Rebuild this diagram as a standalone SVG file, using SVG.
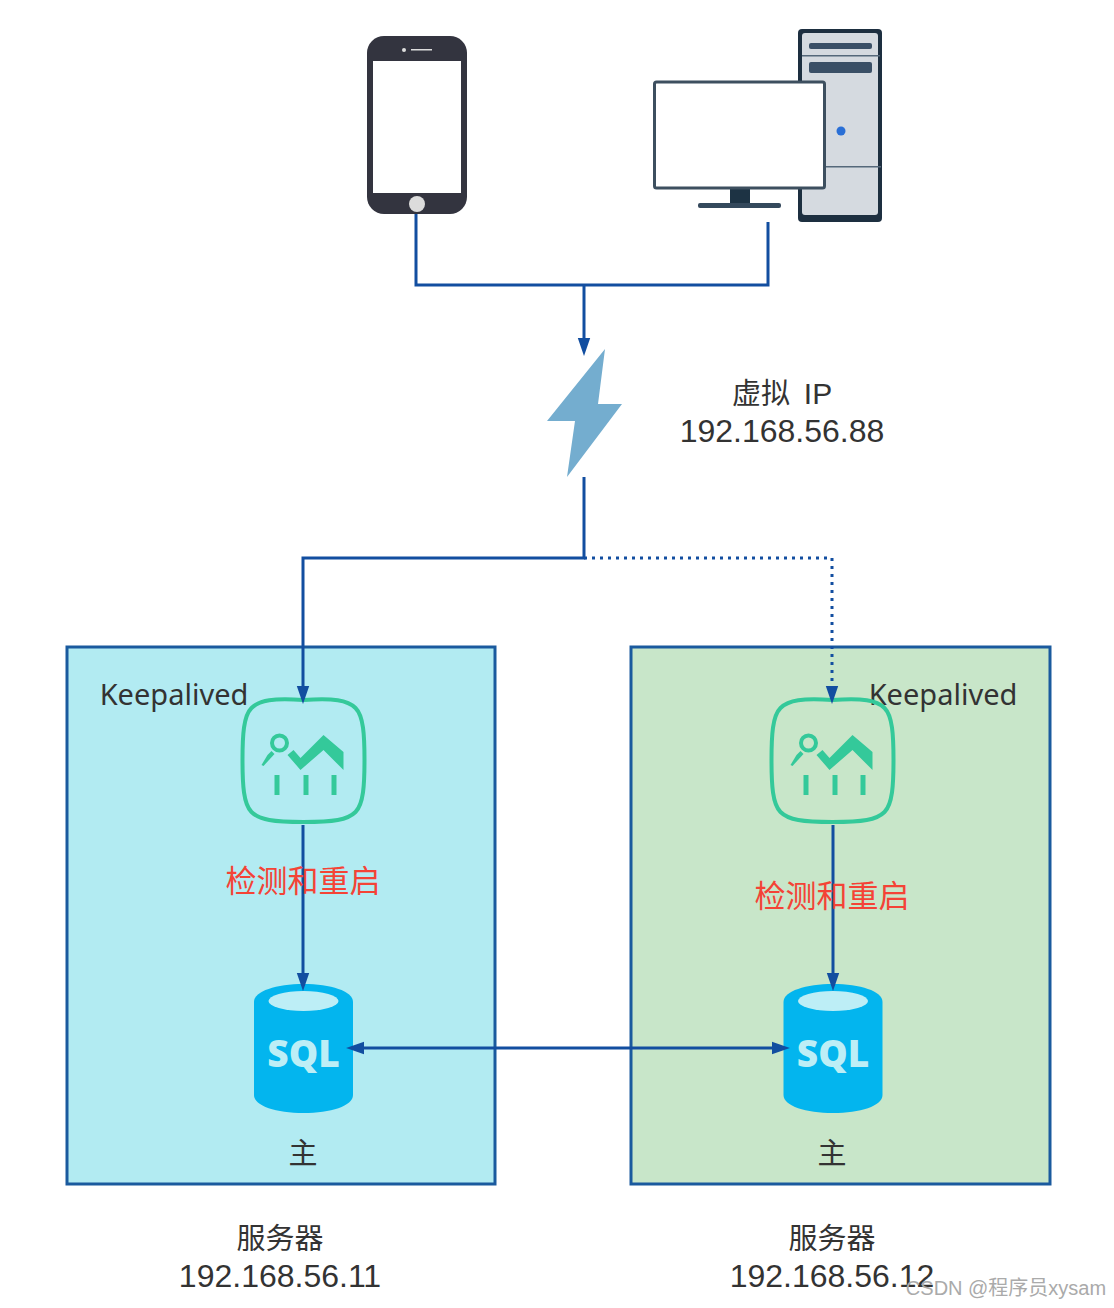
<svg xmlns="http://www.w3.org/2000/svg" width="1114" height="1308" viewBox="0 0 1114 1308">
<style>
.t{font-family:"Noto Sans CJK SC","Liberation Sans",sans-serif;fill:#333;font-size:29px;text-anchor:middle}
.n{font-family:"Liberation Sans",sans-serif;fill:#333;font-size:32px;text-anchor:middle}
.k{font-family:"Noto Sans","Liberation Sans",sans-serif;fill:#333;font-size:29px;text-anchor:middle}
.r{font-family:"Noto Sans CJK SC",sans-serif;fill:#f44336;font-size:31px;text-anchor:middle}
.l{fill:none;stroke:#124ea0;stroke-width:3}
.d{stroke-dasharray:3 5}
.g{fill:none;stroke:#34c99a;stroke-width:4}
.gf{fill:#34c99a}
.box{stroke:#1a5a9e;stroke-width:3}
.dbt{font-family:"Open Sans","Noto Sans",sans-serif;font-weight:800;font-size:37px;fill:#bdeef6;text-anchor:middle}
</style>
<defs>
<marker id="a" markerUnits="userSpaceOnUse" markerWidth="18" markerHeight="26" refX="16" refY="9" orient="auto-start-reverse" viewBox="0 0 26 18"><path d="M0 0L26 9L0 18Z" fill="#124ea0"/></marker>
<g id="mon">
<path class="g" d="M0 -60C30 -62 44 -60 52 -52C60 -44 61 -25 61 0C61 25 60 44 52 52C44 60 30 62 0 62C-30 62 -44 60 -52 52C-60 44 -61 25 -61 0C-61 -25 -60 -44 -52 -52C-44 -60 -30 -62 0 -60Z"/>
<circle cx="-24" cy="-17" r="7.5" fill="none" stroke="#34c99a" stroke-width="4"/>
<path class="gf" d="M-32 -9L-36 -5L-42 5L-40 6L-29 -6Z"/>
<path class="gf" d="M-16 -5L-10 -10L-3 -2L20 -25L40 -8L40 10L20 -10L-3 10Z"/>
<rect class="gf" x="-29" y="15" width="5" height="20"/><rect class="gf" x="0" y="15" width="5" height="20"/><rect class="gf" x="28" y="15" width="5" height="20"/>
</g>
<g id="db">
<path d="M-49.500 -47C-49.500 -58 -27 -65 0 -65C27 -65 49.500 -58 49.500 -47V46C49.500 57 27 64 0 64C-27 64 -49.500 57 -49.500 46Z" fill="#03b5ee"/>
<ellipse cx="0" cy="-48" rx="35" ry="10" fill="#bdeef6"/>
<text class="dbt" x="0" y="18">SQL</text>
</g>
</defs>
<rect width="1114" height="1308" fill="#fff"/>
<g id="phone">
<rect x="367" y="36" width="100" height="178" rx="17" fill="#33343f"/>
<rect x="373" y="61" width="88" height="132" fill="#fff"/>
<circle cx="404" cy="50" r="2" fill="#ddd"/><rect x="411" y="49" width="21" height="1.500" fill="#ddd"/>
<circle cx="417" cy="204" r="8" fill="#dcdcdc"/>
</g>
<g id="computer">
<rect x="798" y="29" width="84" height="193" rx="4" fill="#1d2f40"/>
<rect x="802" y="33" width="76" height="182" rx="3" fill="#d5dae0"/>
<rect x="802" y="55" width="78" height="1.500" fill="#55687a"/>
<rect x="809" y="43" width="63" height="6" rx="2" fill="#3a4f66"/>
<rect x="809" y="62" width="63" height="11" rx="2" fill="#3a4f66"/>
<rect x="825" y="166" width="56" height="1.500" fill="#55687a"/>
<circle cx="841" cy="131" r="4.500" fill="#2a6fd6"/>
<rect x="730" y="188" width="20" height="16" fill="#1d3344"/>
<rect x="698" y="203" width="83" height="5" rx="2" fill="#34495c"/>
<rect x="654.500" y="82" width="170" height="106" rx="2" fill="#fff" stroke="#3d4f5f" stroke-width="3"/>
</g>
<g id="bolt"><polygon points="605,349 547,421 575,421 567,477 622,404 598,404" fill="#74adcf"/></g>
<g id="vip"><text class="t" x="761" y="404">虚拟</text><text class="n" x="818" y="404" style="font-size:30px">IP</text><text class="n" x="782" y="442">192.168.56.88</text></g>
<g id="server1">
<rect class="box" x="67" y="647" width="428" height="537" fill="#b2ebf2"/>
<text class="k" x="174" y="705">Keepalived</text>
<use href="#mon" x="303.500" y="760"/>
<use href="#db" x="303.500" y="1049"/>
<text class="t" x="303" y="1164">主</text>
</g>
<g id="server2">
<rect class="box" x="631" y="647" width="419" height="537" fill="#c8e6c9"/>
<text class="k" x="943" y="705">Keepalived</text>
<use href="#mon" x="832.500" y="760"/>
<use href="#db" x="833" y="1049"/>
<text class="t" x="832" y="1164">主</text>
</g>
<g id="connectors">
<path class="l" d="M416 214V285H768V222"/>
<path class="l" d="M584 285V349" marker-end="url(#a)"/>
<path class="l" d="M584 477V558H303V697" marker-end="url(#a)"/>
<path class="l d" d="M584 558H832V697" marker-end="url(#a)"/>
<path class="l" d="M303 825V984" marker-end="url(#a)"/>
<path class="l" d="M833 825V984" marker-end="url(#a)"/>
<path class="l" d="M353 1048H783" marker-start="url(#a)" marker-end="url(#a)"/>
</g>
<g id="labels">
<text class="r" x="303" y="892">检测和重启</text>
<text class="r" x="832" y="907">检测和重启</text>
<text class="t" x="280" y="1249">服务器</text>
<text class="n" x="280" y="1287">192.168.56.11</text>
<text class="t" x="832" y="1249">服务器</text>
<text class="n" x="832" y="1287">192.168.56.12</text>
<text x="1006" y="1295" style="font-family:'Liberation Sans','Noto Sans CJK SC',sans-serif;font-size:20px;fill:#aaa;text-anchor:middle">CSDN @程序员xysam</text>
</g>
</svg>
